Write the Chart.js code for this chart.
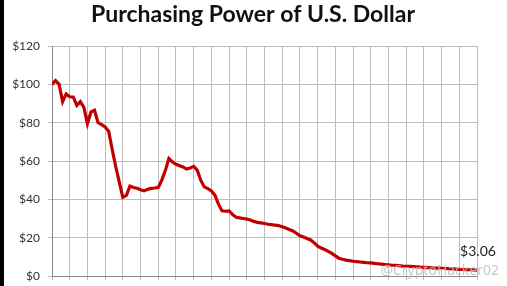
<!DOCTYPE html>
<html>
<head>
<meta charset="utf-8">
<script src="https://cdn.jsdelivr.net/npm/chart.js@4.4.0/dist/chart.umd.min.js"></script>
<style>
  html, body { margin: 0; padding: 0; background: #fff; }
  #wrap { position: relative; width: 507px; height: 286px; }
</style>
</head>
<body>
<div id="wrap"><canvas id="myChart" width="507" height="286"></canvas></div>
<script>
var years = [
    1900, 1901, 1902, 1903, 1904, 1905, 1906, 1907, 1908, 1909,
    1910, 1911, 1912, 1913, 1914, 1915, 1916, 1917, 1918, 1919,
    1920, 1921, 1922, 1923, 1924, 1925, 1926, 1927, 1928, 1929,
    1930, 1931, 1932, 1933, 1934, 1935, 1936, 1937, 1938, 1939,
    1940, 1941, 1942, 1943, 1944, 1945, 1946, 1947, 1948, 1949,
    1950, 1951, 1952, 1953, 1954, 1955, 1956, 1957, 1958, 1959,
    1960, 1961, 1962, 1963, 1964, 1965, 1966, 1967, 1968, 1969,
    1970, 1971, 1972, 1973, 1974, 1975, 1976, 1977, 1978, 1979,
    1980, 1981, 1982, 1983, 1984, 1985, 1986, 1987, 1988, 1989,
    1990, 1991, 1992, 1993, 1994, 1995, 1996, 1997, 1998, 1999,
    2000, 2001, 2002, 2003, 2004, 2005, 2006, 2007, 2008, 2009,
    2010, 2011, 2012, 2013, 2014, 2015, 2016, 2017, 2018, 2019,
    2020
];
var power = [
    100, 102, 100, 91, 95, 93.5, 93.4, 89, 91, 88,
    79.5, 85.6, 86.5, 80, 79, 77.8, 75.5, 66, 57, 49,
    41, 42, 46.9, 46.2, 45.8, 45, 44.4, 45.2, 45.7, 45.9,
    46.2, 50, 55, 61.3, 59.5, 58.3, 57.5, 56.9, 55.8, 56.4,
    57.2, 55.2, 50, 46.5, 45.6, 44.4, 42.2, 37.5, 34, 33.8,
    34, 32, 30.6, 30.3, 30, 29.7, 29.2, 28.5, 28, 27.7,
    27.4, 27, 26.8, 26.5, 26.3, 25.7, 25, 24.3, 23.5, 22.3,
    21, 20.3, 19.6, 18.8, 17.4, 15.6, 14.6, 13.8, 12.8, 11.8,
    10.5, 9.3, 8.7, 8.3, 8, 7.7, 7.5, 7.3, 7.1, 6.9,
    6.8, 6.6, 6.4, 6.2, 6.0, 5.8, 5.6, 5.5, 5.4, 5.2,
    5.1, 5.0, 4.9, 4.8, 4.6, 4.5, 4.4, 4.3, 4.1, 4.1,
    4.0, 3.9, 3.8, 3.7, 3.6, 3.5, 3.4, 3.35, 3.25, 3.15,
    3.06
];
var yTicks = [0, 20, 40, 60, 80, 100, 120];
var titleText = 'Purchasing Power of U.S. Dollar';
var endLabel = '$3.06';
var watermark = '@CryptoHacker02';

var points = years.map(function (y, i) { return { x: y, y: power[i] }; });

// left black strip, centred title, end value label and watermark
var extras = {
    id: 'extras',
    beforeDraw: function (chart) {
        var ctx = chart.ctx;
        ctx.save();
        ctx.fillStyle = '#000';
        ctx.fillRect(0, 0, 4, chart.height);
        ctx.restore();
    },
    afterDraw: function (chart) {
        var ctx = chart.ctx;
        var xs = chart.scales.x, ys = chart.scales.y;
        var px = xs.getPixelForValue(years[years.length - 1]);
        var py = ys.getPixelForValue(power[power.length - 1]);
        ctx.save();
        ctx.font = 'bold 23px Lato';
        ctx.fillStyle = '#111';
        ctx.textAlign = 'center';
        ctx.textBaseline = 'alphabetic';
        ctx.fillText(titleText, 253, 22);

        ctx.font = '14px Lato';
        ctx.fillStyle = '#222';
        ctx.fillText(endLabel, px + 1, py - 14);

        ctx.font = '14px "Noto Sans"';
        ctx.textAlign = 'right';
        ctx.textBaseline = 'middle';
        ctx.fillStyle = 'rgba(190,190,190,0.85)';
        ctx.fillText(watermark, 499, py + 1);
        ctx.restore();
    }
};

var ctx = document.getElementById('myChart').getContext('2d');
var myChart = new Chart(ctx, {
    type: 'line',
    data: {
        datasets: [{
            label: 'Purchasing Power',
            data: points,
            borderColor: '#C00000',
            borderWidth: 3.2,
            pointRadius: 0,
            tension: 0,
            fill: false
        }]
    },
    options: {
        responsive: false,
        animation: false,
        layout: { padding: { left: 4, right: 30, top: 46, bottom: 0 } },
        plugins: {
            legend: { display: false },
            tooltip: { enabled: false },
            title: { display: false }
        },
        scales: {
            x: {
                type: 'linear',
                min: years[0],
                max: years[years.length - 1],
                ticks: { display: false, stepSize: 5 },
                grid: { color: '#bdbdbd', tickLength: 4, lineWidth: 1 },
                border: { color: '#8c8c8c' },
                afterFit: function (scale) {
                    scale.height = 10;
                    scale.paddingLeft = 0;
                    scale.paddingRight = 0;
                }
            },
            y: {
                min: 0,
                max: 120,
                afterBuildTicks: function (scale) {
                    scale.ticks = yTicks.map(function (v) { return { value: v }; });
                },
                ticks: {
                    color: '#333',
                    font: { family: 'Lato', size: 12 },
                    padding: 8,
                    callback: function (v) { return '$' + v; }
                },
                grid: { color: '#bdbdbd', tickLength: 4, lineWidth: 1 },
                border: { color: '#8c8c8c' },
                afterFit: function (scale) {
                    scale.width = 48;
                    scale.paddingTop = 0;
                    scale.paddingBottom = 0;
                }
            }
        }
    },
    plugins: [extras]
});
</script>
</body>
</html>
